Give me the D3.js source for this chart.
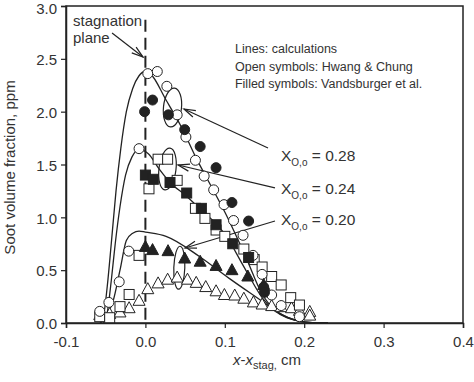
<!DOCTYPE html>
<html><head><meta charset="utf-8">
<script src="https://cdn.jsdelivr.net/npm/d3@7"></script>
<style>body{margin:0;background:#fff}svg{display:block;font-family:"Liberation Sans",Arial,sans-serif}</style>
</head><body><svg id="c" width="474" height="382"></svg>
<script>
// ---- data (x - x_stag in cm, soot volume fraction in ppm) ----
const xTicks = [-0.1, 0.0, 0.1, 0.2, 0.3, 0.4];
const yTicks = [0.0, 0.5, 1.0, 1.5, 2.0, 2.5, 3.0];

const calc028 = [[-0.057,0],[-0.052,0.1],[-0.048,0.35],[-0.043,0.75],[-0.037,1.25],[-0.031,1.65],[-0.024,2.0],[-0.016,2.22],[-0.008,2.34],[0.0,2.38],[0.006,2.36],[0.026,2.11],[0.045,1.86],[0.064,1.56],[0.081,1.32],[0.1,1.05],[0.125,0.65],[0.148,0.26],[0.162,0.13],[0.178,0.055],[0.193,0.02],[0.21,0.003],[0.23,0]];
const calc024 = [[-0.053,0],[-0.048,0.1],[-0.043,0.4],[-0.038,0.75],[-0.032,1.1],[-0.025,1.4],[-0.017,1.57],[-0.008,1.64],[0.004,1.6],[0.017,1.46],[0.031,1.33],[0.052,1.2],[0.07,1.07],[0.089,0.94],[0.1,0.84],[0.125,0.52],[0.148,0.23],[0.162,0.12],[0.178,0.05],[0.193,0.018],[0.21,0.003],[0.23,0]];
const calc020 = [[-0.056,0],[-0.05,0.07],[-0.041,0.2],[-0.032,0.5],[-0.024,0.78],[-0.016,0.85],[-0.008,0.87],[0.0,0.86],[0.026,0.82],[0.068,0.63],[0.106,0.42],[0.148,0.2],[0.165,0.11],[0.18,0.05],[0.195,0.015],[0.21,0.003],[0.23,0]];

const openCircles = [[-0.0575,0.11],[-0.046,0.195],[-0.033,0.39],[-0.021,0.68],[-0.008,1.65],[0.003,2.36],[0.015,2.38],[0.027,2.24],[0.040,1.97],[0.051,1.76],[0.063,1.54],[0.074,1.39],[0.086,1.26],[0.099,1.12],[0.111,0.97],[0.123,0.83],[0.1355,0.64],[0.147,0.46],[0.159,0.265],[0.171,0.165],[0.194,0.06]];
const filledCircles = [[-0.001,2.0],[0.009,2.11],[0.029,1.97],[0.0495,1.83],[0.069,1.67],[0.089,1.47],[0.109,1.14],[0.130,0.965],[0.149,0.34],[0.150,0.29]];
const openSquares = [[-0.0575,0.06],[-0.045,0.05],[-0.032,0.155],[-0.0205,0.27],[-0.008,0.64],[0.0045,1.27],[0.016,1.55],[0.028,1.55],[0.040,1.35],[0.063,1.085],[0.075,0.99],[0.089,0.88],[0.100,0.82],[0.124,0.70],[0.137,0.60],[0.147,0.53],[0.159,0.44],[0.171,0.36],[0.183,0.24],[0.194,0.17]];
const filledSquares = [[0.0,1.40],[0.01,1.36],[0.031,1.33],[0.052,1.23],[0.0705,1.085],[0.089,0.93],[0.110,0.75],[0.130,0.62]];
const openTriangles = [[-0.0575,0.075],[-0.045,0.085],[-0.032,0.10],[-0.0205,0.14],[-0.008,0.21],[0.003,0.32],[0.016,0.375],[0.028,0.41],[0.040,0.43],[0.053,0.41],[0.064,0.38],[0.076,0.34],[0.089,0.30],[0.0995,0.265],[0.1125,0.26],[0.124,0.23],[0.136,0.195],[0.147,0.175],[0.159,0.16],[0.171,0.15],[0.184,0.14],[0.194,0.115],[0.207,0.105],[0.207,0.07]];
const filledTriangles = [[0.0,0.72],[0.009,0.69],[0.0285,0.68],[0.0495,0.61],[0.069,0.58],[0.089,0.54],[0.109,0.50],[0.129,0.44],[0.149,0.36]];

const caseLabels = ["0.28", "0.24", "0.20"];
const legendLines = ["Lines: calculations", "Open symbols: Hwang & Chung", "Filled symbols: Vandsburger et al."];

// ---- layout ----
const svg = d3.select("#c");
const ink = "#222";
const x = d3.scaleLinear().domain([-0.1, 0.4]).range([66, 463]);
const y = d3.scaleLinear().domain([0, 3]).range([323, 6]);

// frame
svg.append("rect").attr("x", x(-0.1)).attr("y", y(3)).attr("width", x(0.4)-x(-0.1)).attr("height", y(0)-y(3))
  .attr("fill", "none").attr("stroke", ink).attr("stroke-width", 1.5);

// axes
const fmt = d => d.toFixed(1);
const xMinor = d3.range(-0.1, 0.4001, 0.02);
const yMinor = d3.range(0, 3.0001, 0.1);
const gx = svg.append("g").attr("transform", `translate(0,${y(0)})`);
gx.call(d3.axisBottom(x).tickValues(xMinor).tickSize(5).tickFormat(""));
gx.call(d3.axisBottom(x).tickValues(xTicks).tickSize(5).tickFormat(fmt));
const gy = svg.append("g").attr("transform", `translate(${x(-0.1)},0)`);
gy.call(d3.axisLeft(y).tickValues(yMinor).tickSize(5).tickFormat(""));
gy.call(d3.axisLeft(y).tickValues(yTicks).tickSize(5).tickFormat(fmt));
svg.selectAll(".domain").attr("stroke", ink).attr("stroke-width", 1.5);
svg.selectAll(".tick line").attr("stroke", ink).attr("stroke-width", 1.2);
gx.selectAll("text").attr("font-size", 15).attr("fill", "#333").attr("dy", "1.05em").attr("font-family", "Liberation Sans, Arial");
gy.selectAll("text").attr("font-size", 15).attr("fill", "#333").attr("x", -9).attr("font-family", "Liberation Sans, Arial")
  .attr("y", d => d === 3 ? 2.5 : 1);

// axis titles
svg.append("text").attr("transform", `translate(15,${(y(0)+y(3))/2+3}) rotate(-90)`)
  .attr("text-anchor", "middle").attr("font-size", 15).attr("fill", "#333").text("Soot volume fraction, ppm");
const xt = svg.append("text").attr("x", 233).attr("y", 365).attr("font-size", 15).attr("fill", "#333");
xt.append("tspan").attr("font-style", "italic").text("x");
xt.append("tspan").text("-");
xt.append("tspan").attr("font-style", "italic").text("x");
xt.append("tspan").attr("font-size", 11).attr("dy", 4).text("stag");
xt.append("tspan").attr("font-size", 11).text(",");
xt.append("tspan").attr("dy", -4).text(" cm");

// stagnation plane
svg.append("line").attr("x1", x(0)).attr("x2", x(0)).attr("y1", y(2.87)).attr("y2", y(0))
  .attr("stroke", ink).attr("stroke-width", 2).attr("stroke-dasharray", "12,6");

// calculation lines
const line = d3.line().x(d => x(d[0])).y(d => y(d[1])).curve(d3.curveMonotoneX);
[calc028, calc024, calc020].forEach(c => svg.append("path").attr("d", line(c))
  .attr("fill", "none").attr("stroke", ink).attr("stroke-width", 1.3));

// annotations: ellipses
const ells = [
  {cx: 0.0341, cy: 2.039, rx: 9, ry: 19.5, rot: 6},
  {cx: 0.0278, cy: 1.457, rx: 8.5, ry: 21, rot: 7},
  {cx: 0.0427, cy: 0.523, rx: 5.5, ry: 21.5, rot: 2}
];
ells.forEach(e => svg.append("ellipse").attr("cx", 0).attr("cy", 0).attr("rx", e.rx).attr("ry", e.ry)
  .attr("transform", `translate(${x(e.cx)},${y(e.cy)}) rotate(${e.rot})`)
  .attr("fill", "none").attr("stroke", ink).attr("stroke-width", 1.2));

// arrows
function arrow(x1, y1, x2, y2) {
  const X1 = x(x1), Y1 = y(y1), X2 = x(x2), Y2 = y(y2);
  svg.append("line").attr("x1", X1).attr("y1", Y1).attr("x2", X2).attr("y2", Y2).attr("stroke", ink).attr("stroke-width", 1.2);
  const a = Math.atan2(Y2 - Y1, X2 - X1), L = 12, h = 0.3;
  const p = [[X2 - L*Math.cos(a - h), Y2 - L*Math.sin(a - h)], [X2, Y2], [X2 - L*Math.cos(a + h), Y2 - L*Math.sin(a + h)]];
  svg.append("path").attr("d", d3.line()(p)).attr("fill", "none").attr("stroke", ink).attr("stroke-width", 1.2);
}
arrow(0.1544, 1.656, 0.0486, 2.025);
arrow(0.1632, 1.278, 0.0411, 1.495);
arrow(0.1632, 0.965, 0.0499, 0.71);
arrow(-0.042, 2.744, -0.003, 2.517);

// stagnation label
svg.append("text").attr("x", x(-0.0912)).attr("y", 26).attr("font-size", 15).attr("fill", "#333").text("stagnation");
svg.append("text").attr("x", x(-0.0912)).attr("y", 43).attr("font-size", 15).attr("fill", "#333").text("plane");

// legend
legendLines.forEach((t, i) => svg.append("text").attr("x", x(0.1128)).attr("y", [53, 71, 88][i])
  .attr("font-size", 12.5).attr("fill", "#333").text(t));

// case labels
caseLabels.forEach((t, i) => {
  const tx = svg.append("text").attr("x", x(0.1708)).attr("y", [161, 193.5, 225][i]).attr("font-size", 15.5).attr("fill", "#333");
  tx.append("tspan").text("X");
  tx.append("tspan").attr("font-size", 10).attr("dy", 5).text("O,o");
  tx.append("tspan").attr("dy", -5).text(" = " + t);
});

// symbols
const gs = svg.append("g").attr("stroke", ink).attr("stroke-width", 1);
function circles(data, fill) {
  gs.selectAll(null).data(data).join("circle").attr("cx", d => x(d[0])).attr("cy", d => y(d[1])).attr("r", 5).attr("fill", fill);
}
function squares(data, fill) {
  gs.selectAll(null).data(data).join("rect").attr("x", d => x(d[0]) - 5).attr("y", d => y(d[1]) - 5)
    .attr("width", 10).attr("height", 10).attr("fill", fill);
}
function triangles(data, fill) {
  gs.selectAll(null).data(data).join("path")
    .attr("d", d => { const cx = x(d[0]), cy = y(d[1]); return `M${cx},${cy-6.5}L${cx+6},${cy+4.5}L${cx-6},${cy+4.5}Z`; })
    .attr("fill", fill);
}
triangles(openTriangles, "#fff");
squares(openSquares, "#fff");
circles(openCircles, "#fff");
triangles(filledTriangles, ink);
squares(filledSquares, ink);
circles(filledCircles, ink);
</script></body></html>
